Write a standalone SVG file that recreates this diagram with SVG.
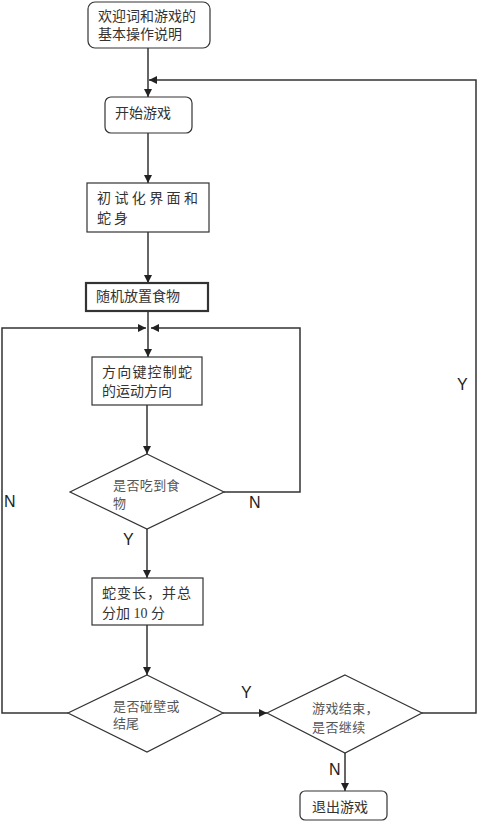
<svg xmlns="http://www.w3.org/2000/svg" width="479" height="821" viewBox="0 0 479 821">
<style>
.box{fill:#fff;stroke:#333;stroke-width:1.2}
.thick{stroke-width:2.2}
.t{font-family:"Liberation Serif","Noto Sans CJK SC",serif;font-size:14px;fill:#333}
.d{font-family:"Liberation Serif","Noto Sans CJK SC",serif;font-size:13px;fill:#555}
.lbl{font-family:"Liberation Sans",Arial,sans-serif;font-size:16px;fill:#222}
.c{fill:none;stroke:#333;stroke-width:1.5}
</style>
<defs>
<marker id="ah" viewBox="0 0 10 10" refX="10" refY="5" markerWidth="8" markerHeight="8" markerUnits="userSpaceOnUse" orient="auto">
<path d="M0,0 L10,5 L0,10 z" fill="#222"/>
</marker>
</defs>
<g id="connectors">
<line class="c" x1="148" y1="48" x2="148" y2="97" marker-end="url(#ah)"/>
<line class="c" x1="148" y1="133" x2="148" y2="183" marker-end="url(#ah)"/>
<line class="c" x1="148" y1="232" x2="148" y2="283" marker-end="url(#ah)"/>
<line class="c" x1="148" y1="311" x2="148" y2="357" marker-end="url(#ah)"/>
<line class="c" x1="147" y1="405" x2="147" y2="454" marker-end="url(#ah)"/>
<line class="c" x1="147" y1="529" x2="147" y2="578" marker-end="url(#ah)"/>
<line class="c" x1="147" y1="625" x2="147" y2="675" marker-end="url(#ah)"/>
<polyline class="c" points="68,713 2,713 2,328 146,328" marker-end="url(#ah)"/>
<polyline class="c" points="224,492 300,492 300,328 151,328" marker-end="url(#ah)"/>
<line class="c" x1="223" y1="713" x2="267" y2="713" marker-end="url(#ah)"/>
<polyline class="c" points="422,713 476,713 476,80 149,80" marker-end="url(#ah)"/>
<line class="c" x1="345" y1="753" x2="345" y2="791" marker-end="url(#ah)"/>
<text class="lbl" x="4" y="507">N</text>
<text class="lbl" x="249" y="508">N</text>
<text class="lbl" x="123" y="545">Y</text>
<text class="lbl" x="241" y="698">Y</text>
<text class="lbl" x="329" y="775">N</text>
<text class="lbl" x="457" y="390">Y</text>
</g>
<g id="welcome">
<rect class="box" x="88" y="2" width="122" height="46" rx="7"/>
<text class="t" x="98" y="21">欢迎词和游戏的</text>
<text class="t" x="98" y="39">基本操作说明</text>
</g>
<g id="start">
<rect class="box" x="105" y="97" width="87" height="36" rx="6"/>
<text class="t" x="115" y="118">开始游戏</text>
</g>
<g id="init">
<rect class="box" x="87" y="183" width="122" height="49"/>
<text class="t" x="97" y="203" letter-spacing="3.4">初试化界面和</text>
<text class="t" x="97" y="223" letter-spacing="3">蛇身</text>
</g>
<g id="food">
<rect class="box thick" x="86" y="283" width="122" height="28"/>
<text class="t" x="96" y="301">随机放置食物</text>
</g>
<g id="direction">
<rect class="box" x="92" y="357" width="110" height="48"/>
<text class="t" x="102" y="377" letter-spacing="1.2">方向键控制蛇</text>
<text class="t" x="102" y="396">的运动方向</text>
</g>
<g id="eat">
<polygon class="box" points="147,454 224,492 147,529 70,492"/>
<text class="d" x="113" y="490" letter-spacing="0.4">是否吃到食</text>
<text class="d" x="113" y="508">物</text>
</g>
<g id="grow">
<rect class="box" x="92" y="578" width="111" height="47"/>
<text class="t" x="102" y="598" letter-spacing="1">蛇变长，并总</text>
<text class="t" x="102" y="618">分加 10 分</text>
</g>
<g id="collide">
<polygon class="box" points="147,675 223,713 147,752 68,713"/>
<text class="d" x="113" y="711" letter-spacing="0.4">是否碰壁或</text>
<text class="d" x="113" y="728">结尾</text>
</g>
<g id="gameover">
<polygon class="box" points="345,675 422,713 345,753 267,713"/>
<text class="d" x="312" y="713" letter-spacing="0.4">游戏结束，</text>
<text class="d" x="312" y="732" letter-spacing="0.4">是否继续</text>
</g>
<g id="exit">
<rect class="box" x="300" y="791" width="87" height="29" rx="5"/>
<text class="t" x="312" y="812">退出游戏</text>
</g>
</svg>
